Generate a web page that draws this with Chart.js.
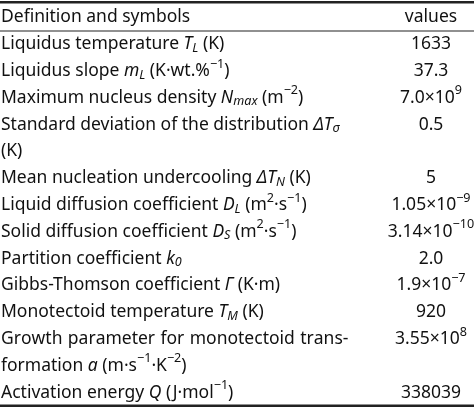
<!DOCTYPE html>
<html><head><meta charset="utf-8">
<script src="https://cdn.jsdelivr.net/npm/chart.js@4"></script>
<style>body{margin:0;background:#fff}#wrap{width:474px;height:408px}</style>
</head><body><div id="wrap"><canvas id="c"></canvas></div>
<script>
// une ligne visuelle = une catégorie ; {i:..} italique, {b:..} indice, {p:..} exposant
const rowLabels = [
	"Definition and symbols",
	"Liquidus temperature {i:T}{b:L} (K)",
	"Liquidus slope {i:m}{b:L} (K·wt.%{p:−1})",
	"Maximum nucleus density {i:N}{b:max} (m{p:−2})",
	"Standard deviation of the distribution {i:ΔT}{b:σ}",
	"(K)",
	"Mean nucleation undercooling {i:ΔT}{b:N} (K)",
	"Liquid diffusion coefficient {i:D}{b:L} (m{p:2}·s{p:−1})",
	"Solid diffusion coefficient {i:D}{b:S} (m{p:2}·s{p:−1})",
	"Partition coefficient {i:k}{b:0}",
	"Gibbs-Thomson coefficient {i:Γ} (K·m)",
	"Monotectoid temperature {i:T}{b:M} (K)",
	"Growth parameter for monotectoid trans-",
	"formation {i:a} (m·s{p:−1}·K{p:−2})",
	"Activation energy {i:Q} (J·mol{p:−1})"
];
const rowValues = [
	"values", "1633", "37.3", "7.0×10{p:9}", "0.5", "", "5",
	"1.05×10{p:−9}", "3.14×10{p:−10}", "2.0", "1.9×10{p:−7}", "920",
	"3.55×10{p:8}", "", "338039"
];
const justifiedRows = [12];

const FONT = '"Noto Sans", sans-serif';
const SIZE = 17.5;

function parse(str) {
	const out = [];
	const re = /\{(i|b|p):([^}]*)\}|([^{]+)/g;
	let m;
	while ((m = re.exec(str))) {
		if (m[3]) out.push({ t: m[3], k: "n" });
		else out.push({ t: m[2], k: m[1] });
	}
	return out;
}

function segFont(k) {
	if (k === "i") return "italic " + SIZE + "px " + FONT;
	if (k === "b" || k === "p") return (k === "b" ? "italic " : "") + SIZE * 0.72 + "px " + FONT;
	return SIZE + "px " + FONT;
}

function segWidth(ctx, segs) {
	let w = 0;
	segs.forEach((s) => { ctx.font = segFont(s.k); w += ctx.measureText(s.t).width; });
	return w;
}

function drawSegs(ctx, segs, x, y, extraPerSpace) {
	segs.forEach((s) => {
		ctx.font = segFont(s.k);
		let dy = 0;
		if (s.k === "b") dy = 4;
		if (s.k === "p") dy = -7;
		if (extraPerSpace && s.k === "n") {
			s.t.split("").forEach((ch) => {
				ctx.fillText(ch, x, y + dy);
				x += ctx.measureText(ch).width + (ch === " " ? extraPerSpace : 0);
			});
		} else {
			ctx.fillText(s.t, x, y + dy);
			x += ctx.measureText(s.t).width;
		}
	});
}

const tablePlugin = {
	id: "table",
	afterDraw(chart) {
		const ctx = chart.ctx;
		const y = chart.scales.y;
		ctx.save();
		ctx.fillStyle = "#111";
		ctx.textBaseline = "middle";
		rowLabels.forEach((lab, i) => {
			const py = y.getPixelForValue(i);
			const segs = parse(lab);
			let extra = 0;
			if (justifiedRows.includes(i)) {
				const spaces = segs.filter((s) => s.k === "n").reduce((a, s) => a + (s.t.split(" ").length - 1), 0);
				extra = Math.max(0, (346 - segWidth(ctx, segs)) / spaces);
			}
			drawSegs(ctx, segs, 1, py, extra);
			const v = parse(rowValues[i]);
			const w = segWidth(ctx, v);
			drawSegs(ctx, v, 431 - w / 2, py, 0);
		});
		ctx.fillStyle = "#222";
		ctx.fillRect(0, 1, 474, 2.5);
		ctx.fillRect(0, 30.5, 474, 1);
		ctx.fillRect(0, 404.5, 474, 2.5);
		ctx.restore();
	}
};

new Chart(document.getElementById("c"), {
	type: "bar",
	data: { labels: rowLabels.map((_, i) => i), datasets: [{ data: [] }] },
	options: {
		indexAxis: "y",
		responsive: true,
		maintainAspectRatio: false,
		animation: false,
		layout: { padding: { top: 4, bottom: 2 } },
		plugins: { legend: { display: false }, tooltip: { enabled: false } },
		scales: {
			x: { display: false, min: 0, max: 1 },
			y: { display: false }
		}
	},
	plugins: [tablePlugin]
});
</script></body></html>
